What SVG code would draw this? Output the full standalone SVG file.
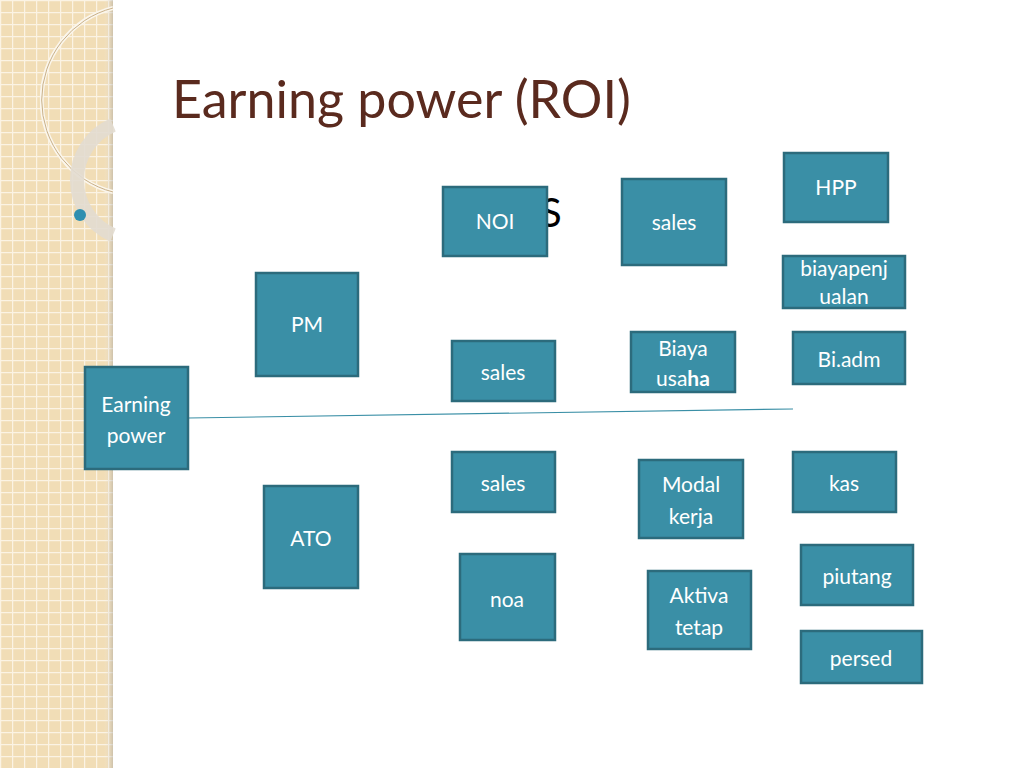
<svg xmlns="http://www.w3.org/2000/svg" width="1024" height="768" viewBox="0 0 1024 768">
<style>
.b{fill:#3A8FA6;stroke:#2C6B7C;stroke-width:2.5}
.t{fill:#fff;font-family:Lato,"Open Sans",sans-serif;font-size:21px;text-anchor:middle}
</style>
<defs>
<pattern id="g" width="12" height="12" patternUnits="userSpaceOnUse">
<rect width="12" height="12" fill="#F1DDB6"/>
<path d="M0 0.5H12M0.5 0V12" stroke="#FBF3E4" stroke-width="1.5"/>
</pattern>
<linearGradient id="sh" x1="0" x2="1"><stop offset="0" stop-color="#fff" stop-opacity="0"/><stop offset="1" stop-color="#999" stop-opacity="0.4"/></linearGradient>
</defs>
<rect width="1024" height="768" fill="#fff"/>
<rect width="113" height="768" fill="url(#g)"/>
<rect x="104" width="9" height="768" fill="url(#sh)"/>
<g clip-path="inset(0)">
<path d="M113 8 A95 95 0 0 0 113 192" fill="none" stroke="#FBF6EC" stroke-width="4"/>
<path d="M113 8 A95 95 0 0 0 113 192" fill="none" stroke="#C9B18A" stroke-width="1"/>
<path d="M113 125 A60 60 0 0 0 113 235" fill="none" stroke="#E2DCD0" stroke-width="14" opacity="0.9"/>
</g>
<circle cx="80" cy="215" r="6" fill="#2F8FB0"/>
<text x="172" y="118" font-family="Lato,'Open Sans',sans-serif" font-size="52" fill="#5A2A1E">Earning power (ROI)</text>
<text x="540" y="227" font-family="Lato,'Open Sans',sans-serif" font-size="40" fill="#000">S</text>
<g id="connectors"><line x1="188" y1="418" x2="793" y2="409" stroke="#3A8FA6" stroke-width="1.2"/></g>
<g id="noi"><rect class="b" x="443" y="187" width="104" height="69"/><text class="t" x="495" y="229">NOI</text></g>
<g id="sales1"><rect class="b" x="622" y="179" width="104" height="86"/><text class="t" x="674" y="230">sales</text></g>
<g id="hpp"><rect class="b" x="784" y="153" width="104" height="69"/><text class="t" x="836" y="195">HPP</text></g>
<g id="biayapenj"><rect class="b" x="783" y="256" width="122" height="52"/><text class="t" x="844" y="276" font-size="20">biayapenj</text><text class="t" x="844" y="304" font-size="20">ualan</text></g>
<g id="pm"><rect class="b" x="256" y="273" width="102" height="103"/><text class="t" x="307" y="332">PM</text></g>
<g id="biadm"><rect class="b" x="793" y="332" width="112" height="52"/><text class="t" x="849" y="367">Bi.adm</text></g>
<g id="sales2"><rect class="b" x="452" y="341" width="103" height="60"/><text class="t" x="503" y="380">sales</text></g>
<g id="biayausaha"><rect class="b" x="631" y="332" width="104" height="60"/><text class="t" x="683" y="356">Biaya</text><text class="t" x="683" y="386">usa<tspan font-weight="bold">ha</tspan></text></g>
<g id="earning"><rect class="b" x="85" y="367" width="103" height="102"/><text class="t" x="136" y="412">Earning</text><text class="t" x="136" y="443">power</text></g>
<g id="sales3"><rect class="b" x="452" y="452" width="103" height="60"/><text class="t" x="503" y="491">sales</text></g>
<g id="modal"><rect class="b" x="639" y="460" width="104" height="78"/><text class="t" x="691" y="492">Modal</text><text class="t" x="691" y="524">kerja</text></g>
<g id="kas"><rect class="b" x="793" y="452" width="103" height="60"/><text class="t" x="844" y="491">kas</text></g>
<g id="ato"><rect class="b" x="264" y="486" width="94" height="102"/><text class="t" x="311" y="546">ATO</text></g>
<g id="piutang"><rect class="b" x="801" y="545" width="112" height="60"/><text class="t" x="857" y="584">piutang</text></g>
<g id="noa"><rect class="b" x="460" y="554" width="95" height="86"/><text class="t" x="507" y="607">noa</text></g>
<g id="aktiva"><rect class="b" x="648" y="571" width="103" height="78"/><text class="t" x="699" y="603">Aktiva</text><text class="t" x="699" y="635">tetap</text></g>
<g id="persed"><rect class="b" x="801" y="631" width="121" height="52"/><text class="t" x="861" y="666">persed</text></g>
</svg>
